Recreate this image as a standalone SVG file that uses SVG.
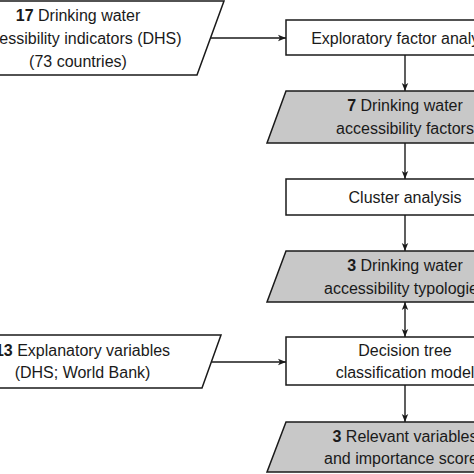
<svg xmlns="http://www.w3.org/2000/svg" width="474" height="474" viewBox="0 0 474 474">
<defs>
<style>
.box{fill:#ffffff;stroke:#1a1a1a;stroke-width:1.5}
.data{fill:#c8c8c8;stroke:#1a1a1a;stroke-width:1.5}
.io{fill:#ffffff;stroke:#1a1a1a;stroke-width:1.5}
text{font-family:"Liberation Sans",Arial,sans-serif;font-size:16px;fill:#1a1a1a;text-anchor:middle}
.b{font-weight:bold}
.edge{stroke:#1a1a1a;stroke-width:1.4;fill:none}
</style>
<marker id="arr" viewBox="0 0 10 10" refX="10" refY="5" markerWidth="8" markerHeight="8" markerUnits="userSpaceOnUse" orient="auto-start-reverse">
<path d="M0,1 L10,5 L0,9 L2.5,5 Z" fill="#1a1a1a"/>
</marker>
</defs>
<rect width="474" height="474" fill="#ffffff"/>
<g id="connectors">
<line class="edge" x1="211" y1="38" x2="286" y2="38" marker-end="url(#arr)"/>
<line class="edge" x1="405" y1="55" x2="405" y2="91" marker-end="url(#arr)"/>
<line class="edge" x1="405" y1="143" x2="405" y2="179" marker-end="url(#arr)"/>
<line class="edge" x1="405" y1="215" x2="405" y2="251" marker-end="url(#arr)"/>
<line class="edge" x1="405" y1="302" x2="405" y2="337" marker-start="url(#arr)" marker-end="url(#arr)"/>
<line class="edge" x1="212" y1="362" x2="286" y2="362" marker-end="url(#arr)"/>
<line class="edge" x1="405" y1="385" x2="405" y2="422" marker-end="url(#arr)"/>
</g>
<g id="indicators">
<polygon class="io" points="-80,1 224,1 197,75 -107,75"/>
<text x="78" y="21"><tspan class="b">17</tspan> Drinking water</text>
<text x="78" y="44">accessibility indicators (DHS)</text>
<text x="78" y="67">(73 countries)</text>
</g>
<g id="efa">
<rect class="box" x="286" y="20" width="238" height="35"/>
<text x="405" y="43.5">Exploratory factor analysis</text>
</g>
<g id="factors">
<polygon class="data" points="286,91 544,91 525,143 267,143"/>
<text x="405" y="111"><tspan class="b">7</tspan> Drinking water</text>
<text x="405" y="134">accessibility factors</text>
</g>
<g id="cluster">
<rect class="box" x="286" y="179" width="238" height="36"/>
<text x="405" y="202.5">Cluster analysis</text>
</g>
<g id="typologies">
<polygon class="data" points="286,251 544,251 525,302 267,302"/>
<text x="405" y="271"><tspan class="b">3</tspan> Drinking water</text>
<text x="405" y="294">accessibility typologies</text>
</g>
<g id="explanatory">
<polygon class="io" points="-80,335 221,335 202,388 -99,388"/>
<text x="82.5" y="356"><tspan class="b">13</tspan> Explanatory variables</text>
<text x="82.5" y="378">(DHS; World Bank)</text>
</g>
<g id="tree">
<rect class="box" x="286" y="337" width="238" height="48"/>
<text x="405" y="356">Decision tree</text>
<text x="405" y="378">classification model</text>
</g>
<g id="relevant">
<polygon class="data" points="286,422 544,422 525,472 267,472"/>
<text x="405" y="442"><tspan class="b">3</tspan> Relevant variables</text>
<text x="405" y="464">and importance scores</text>
</g>
</svg>
